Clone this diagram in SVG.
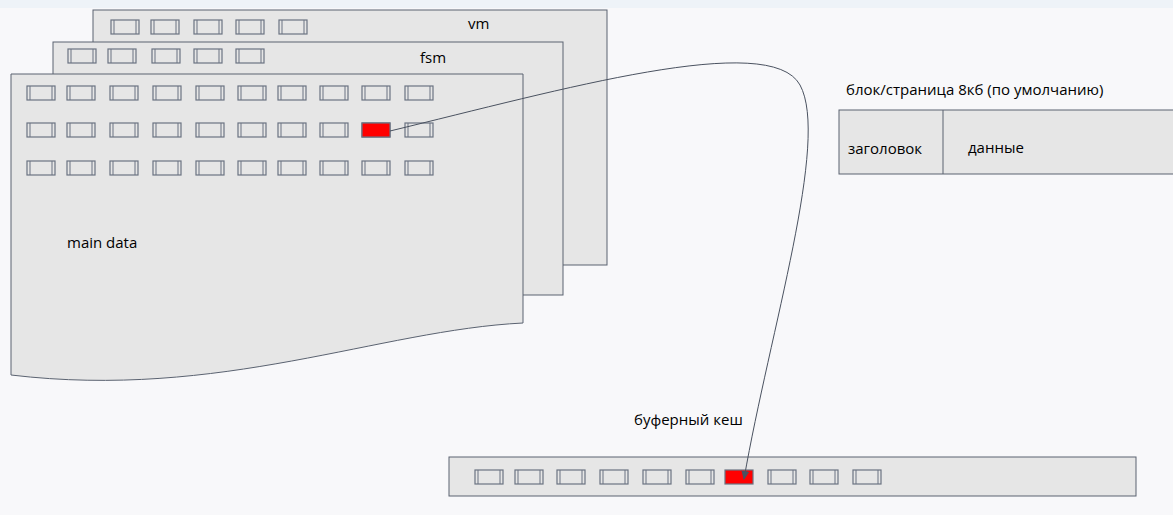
<svg xmlns="http://www.w3.org/2000/svg" width="1173" height="515" viewBox="0 0 1173 515">
<style>
.pg{fill:#e6e6e6;stroke:#5a6270;stroke-width:1}
.c{fill:#e6e6e6;stroke:#6b7382;stroke-width:1.2}
.r{fill:#ff0000;stroke:#6b7382;stroke-width:1.2}
.t{font-family:"Open Sans","Liberation Sans",sans-serif;font-size:15px;fill:#000}
</style>
<defs>
<symbol id="cell" overflow="visible"><rect class="c" x="0" y="0" width="28" height="14"/><line x1="3" y1="0" x2="3" y2="14" stroke="#6b7382"/><line x1="25" y1="0" x2="25" y2="14" stroke="#6b7382"/></symbol>
<marker id="ah" markerWidth="10" markerHeight="10" refX="8" refY="5" orient="auto" markerUnits="userSpaceOnUse"><path d="M0,1 L9,5 L0,9 z" fill="#4a5260"/></marker>
</defs>
<rect width="1173" height="515" fill="#f8f8fa"/>
<rect width="1173" height="8" fill="#eef3f8"/>
<g id="vm"><rect class="pg" x="93" y="10" width="514" height="255"/>
<use href="#cell" x="111" y="20"/><use href="#cell" x="151" y="20"/><use href="#cell" x="194" y="20"/><use href="#cell" x="236" y="20"/><use href="#cell" x="279" y="20"/>
<text class="t" x="468" y="29">vm</text></g>
<g id="fsm"><rect class="pg" x="53" y="42" width="510" height="253"/>
<use href="#cell" x="68" y="49"/><use href="#cell" x="108" y="49"/><use href="#cell" x="152" y="49"/><use href="#cell" x="194" y="49"/><use href="#cell" x="236" y="49"/>
<text class="t" x="420" y="63">fsm</text></g>
<g id="main"><path class="pg" d="M11,74 H523 V323 C380,330 220,400 11,375 Z"/>
<g id="r1"><use href="#cell" x="27" y="86"/><use href="#cell" x="67" y="86"/><use href="#cell" x="110" y="86"/><use href="#cell" x="153" y="86"/><use href="#cell" x="196" y="86"/><use href="#cell" x="238" y="86"/><use href="#cell" x="278" y="86"/><use href="#cell" x="320" y="86"/><use href="#cell" x="362" y="86"/><use href="#cell" x="405" y="86"/></g>
<use href="#r1" y="37"/><use href="#r1" y="75"/>
<rect class="r" x="362" y="123" width="28" height="14"/>
<text class="t" x="67" y="248">main data</text></g>
<g id="block"><text class="t" x="846" y="95">блок/страница 8кб (по умолчанию)</text>
<rect class="pg" x="839" y="110" width="340" height="64"/><line x1="943" y1="110" x2="943" y2="174" stroke="#5a6270"/>
<text class="t" x="848" y="154">заголовок</text><text class="t" x="968" y="153">данные</text></g>
<g id="buffer"><text class="t" x="634" y="425">буферный кеш</text>
<rect class="pg" x="449" y="457" width="687" height="39"/>
<use href="#cell" x="475" y="470"/><use href="#cell" x="515" y="470"/><use href="#cell" x="557" y="470"/><use href="#cell" x="600" y="470"/><use href="#cell" x="643" y="470"/><use href="#cell" x="686" y="470"/><rect class="r" x="725" y="470" width="28" height="14"/><use href="#cell" x="768" y="470"/><use href="#cell" x="810" y="470"/><use href="#cell" x="853" y="470"/></g>
<g id="connectors"><path d="M390,131 C560,90 770,30 800,85 C830,140 770,330 744,479" fill="none" stroke="#4a5260" stroke-width="1" marker-end="url(#ah)"/></g>
</svg>
